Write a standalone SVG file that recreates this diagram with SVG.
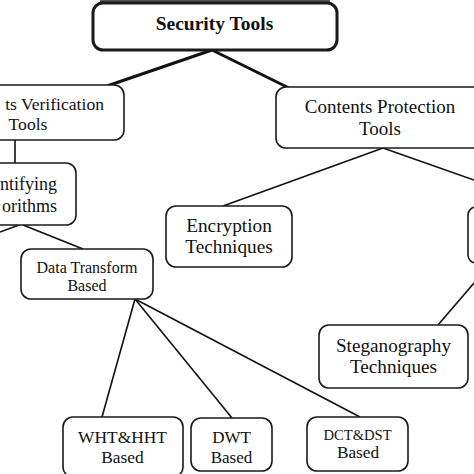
<svg xmlns="http://www.w3.org/2000/svg" width="474" height="474" viewBox="0 0 474 474">
<style>
.box{fill:#fff;stroke:#1a1a1a;stroke-width:1.6}
.thick{stroke-width:3}
.t{font-family:"Liberation Serif","Times New Roman",serif;fill:#111;text-anchor:middle}
.e{text-anchor:end}
.b{font-weight:bold}
.c{stroke:#111;stroke-width:1.6;fill:none}
.ct{stroke-width:3}
</style>
<rect x="100" y="0" width="230" height="4" fill="#555"/>
<rect x="65" y="469" width="112" height="5" fill="#999"/>
<g id="connectors">
<line class="c ct" x1="212" y1="50" x2="107" y2="86"/>
<line class="c ct" x1="212" y1="50" x2="289" y2="88"/>
<line class="c" x1="383" y1="148" x2="223" y2="206"/>
<line class="c" x1="383" y1="148" x2="474" y2="180"/>
<line class="c" x1="474" y1="283" x2="438" y2="325"/>
<line class="c" x1="15" y1="140" x2="15" y2="163"/>
<line class="c" x1="23" y1="225" x2="83" y2="249"/>
<line class="c" x1="0" y1="232" x2="19" y2="225"/>
<line class="c" x1="135" y1="299" x2="102" y2="417"/>
<line class="c" x1="135" y1="299" x2="232" y2="418"/>
<line class="c" x1="135" y1="299" x2="360" y2="417"/>
</g>
<g id="security-tools">
<rect class="box thick" x="93" y="3" width="244" height="47" rx="10"/>
<text class="t b" x="214.5" y="30" font-size="19.5">Security Tools</text>
</g>
<g id="contents-verification">
<rect class="box" x="-70" y="85" width="194" height="55" rx="10"/>
<text class="t e" x="104" y="110" font-size="17.6">ts Verification</text>
<text class="t" x="28" y="130" font-size="17.6">Tools</text>
</g>
<g id="contents-protection">
<rect class="box" x="276" y="87" width="210" height="61" rx="10"/>
<text class="t" x="380" y="113" font-size="19">Contents Protection</text>
<text class="t" x="380" y="135" font-size="19">Tools</text>
</g>
<g id="identifying-algorithms">
<rect class="box" x="-50" y="163" width="126" height="62" rx="10"/>
<text class="t e" x="57" y="190" font-size="18">ntifying</text>
<text class="t e" x="57" y="212" font-size="18">orithms</text>
</g>
<g id="data-transform">
<rect class="box" x="21" y="249" width="132" height="50" rx="10"/>
<text class="t" x="87" y="273" font-size="16">Data Transform</text>
<text class="t" x="87" y="291" font-size="16">Based</text>
</g>
<g id="encryption">
<rect class="box" x="166" y="206" width="126" height="61" rx="10"/>
<text class="t" x="229" y="232" font-size="19.3">Encryption</text>
<text class="t" x="229" y="253" font-size="19.3">Techniques</text>
</g>
<g id="right-partial">
<rect class="box" x="468" y="207" width="40" height="56" rx="8"/>
</g>
<g id="steganography">
<rect class="box" x="319" y="325" width="149" height="63" rx="10"/>
<text class="t" x="393.5" y="352" font-size="19.2">Steganography</text>
<text class="t" x="393.5" y="373" font-size="19.2">Techniques</text>
</g>
<g id="wht-hht">
<rect class="box" x="63" y="417" width="120" height="60" rx="10"/>
<text class="t" x="122.5" y="443" font-size="17.4">WHT&amp;HHT</text>
<text class="t" x="122.5" y="463" font-size="17.4">Based</text>
</g>
<g id="dwt">
<rect class="box" x="191" y="418" width="81" height="53" rx="10"/>
<text class="t" x="231.5" y="443" font-size="17">DWT</text>
<text class="t" x="231.5" y="463" font-size="17">Based</text>
</g>
<g id="dct-dst">
<rect class="box" x="307" y="417" width="101" height="54" rx="10"/>
<text class="t" x="357.5" y="440" font-size="14.6">DCT&amp;DST</text>
<text class="t" x="358" y="458" font-size="17.3">Based</text>
</g>
</svg>
